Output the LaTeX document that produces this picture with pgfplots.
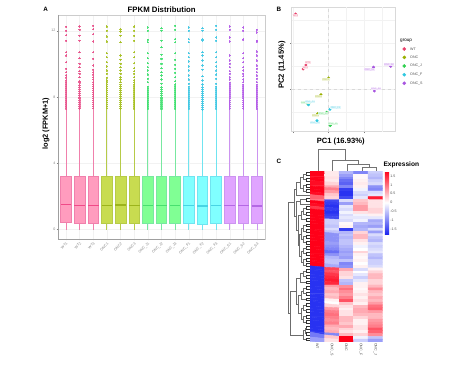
\documentclass[border=0pt]{standalone}
\usepackage{fontspec}
\setmainfont{Liberation Sans}
\usepackage{pgfplots}
\pgfplotsset{compat=1.18}
\usepgfplotslibrary{statistics}
\definecolor{wtF}{HTML}{FF9CBE}\definecolor{wtE}{HTML}{F080AC}\definecolor{wtM}{HTML}{F04A88}\definecolor{wtO}{HTML}{E8508A}
\definecolor{onF}{HTML}{C8DC50}\definecolor{onE}{HTML}{B6CB48}\definecolor{onM}{HTML}{9CB41C}\definecolor{onO}{HTML}{A6C020}
\definecolor{jF}{HTML}{80FF94}\definecolor{jE}{HTML}{78E8A0}\definecolor{jM}{HTML}{48E070}\definecolor{jO}{HTML}{40E070}
\definecolor{fF}{HTML}{80FFFF}\definecolor{fE}{HTML}{70E4F0}\definecolor{fM}{HTML}{48D4E4}\definecolor{fO}{HTML}{40C8E4}
\definecolor{sF}{HTML}{E0A4FF}\definecolor{sE}{HTML}{CC94F0}\definecolor{sM}{HTML}{B468E4}\definecolor{sO}{HTML}{B45CE8}
\definecolor{pW}{HTML}{E8406A}\definecolor{pO}{HTML}{9AB000}\definecolor{pJ}{HTML}{30D050}\definecolor{pF}{HTML}{30C8E0}\definecolor{pS}{HTML}{A855E0}
\newcommand\BX[6]{\addplot[color=#5O,mark=*,mark size=0.65pt,mark options={fill=#5O,draw=#5O,line width=0pt,opacity=0.65},
  boxplot/every box/.style={draw=#5E,fill=#5F,line width=0.7pt},
  boxplot/every whisker/.style={draw=#5E,line width=0.9pt},
  boxplot/every median/.style={draw=#5M,line width=1.3pt},
  boxplot/draw direction=y,
  boxplot prepared={draw position=#1,lower whisker=0,lower quartile=#2,median=#3,upper quartile=#4,upper whisker=7.3,box extend=0.78,whisker extend=0}]
  coordinates {#6};}
\newcommand\Br[5]{\addplot[draw=gray!85!black,line width=0.35pt] coordinates {(#3,#2)(#1,#2)(#1,#4)(#5,#4)};}
\newcommand\Lf[3]{\addplot[draw=black!80,line width=0.35pt] coordinates {(310,#1)(#3,#1)(#3,#2)(310,#2)};}
\begin{document}
\begin{tikzpicture}
\useasboundingbox (0,0) rectangle (474pt,371pt);
% ---------- Panel A
\begin{axis}[at={(58pt,132pt)},anchor=south west,scale only axis,width=207pt,height=224pt,
  xmin=0.413,xmax=15.59,ymin=-0.57,ymax=12.95,
  axis line style={draw=gray!40,line width=0.7pt},
  xtick={1,...,15},xticklabels={WT1,WT2,WT3,ONC1,ONC2,ONC3,ONC\_J1,ONC\_J2,ONC\_J3,ONC\_F1,ONC\_F2,ONC\_F3,ONC\_S1,ONC\_S2,ONC\_S3},
  ytick={0,4,8,12},yticklabels={0,4,8,12},
  x tick label style={rotate=45,anchor=north east,font=\fontsize{3.6}{4}\selectfont,text=gray,inner sep=1pt},
  y tick label style={font=\fontsize{3.6}{4}\selectfont,text=gray,inner sep=1pt},
  tick style={draw=gray,line width=0.3pt},tick align=outside,major tick length=1.5pt,
  xtick pos=bottom,ytick pos=left,
  ymajorgrids,xmajorgrids,grid style={draw=gray!10,line width=0.3pt},axis on top=false]
\BX{1}{0.42}{1.51}{3.19}{wt}{(0,7.3)(0,7.42)(0,7.55)(0,7.66)(0,7.78)(0,7.9)(0,8.02)(0,8.13)(0,8.26)(0,8.38)(0,8.5)(0,8.62)(0,8.74)(0,8.86)(0,9.0)(0,9.18)(0,9.32)(0,9.5)(0,9.7)(0,10.1)(0,10.5)(0,10.7)(0,11.4)(0,11.73)(0,12.0)(0,12.24)}
\BX{2}{0.36}{1.47}{3.19}{wt}{(0,7.3)(0,7.4)(0,7.52)(0,7.65)(0,7.76)(0,7.88)(0,8.0)(0,8.12)(0,8.24)(0,8.36)(0,8.48)(0,8.6)(0,8.72)(0,8.85)(0,8.95)(0,9.2)(0,9.4)(0,9.55)(0,9.8)(0,10.0)(0,10.35)(0,10.7)(0,11.4)(0,11.7)(0,12.05)(0,12.25)}
\BX{3}{0.36}{1.47}{3.19}{wt}{(0,7.32)(0,7.44)(0,7.56)(0,7.68)(0,7.8)(0,7.92)(0,8.04)(0,8.16)(0,8.28)(0,8.4)(0,8.52)(0,8.64)(0,8.76)(0,8.9)(0,9.05)(0,9.2)(0,9.35)(0,9.5)(0,9.65)(0,9.9)(0,10.3)(0,10.7)(0,11.35)(0,11.8)(0,12.1)(0,12.3)}
\BX{4}{0.36}{1.47}{3.19}{on}{(0,7.32)(0,7.44)(0,7.56)(0,7.68)(0,7.8)(0,7.92)(0,8.04)(0,8.16)(0,8.28)(0,8.4)(0,8.52)(0,8.64)(0,8.76)(0,8.88)(0,9.0)(0,9.15)(0,9.4)(0,9.6)(0,9.85)(0,10.1)(0,10.4)(0,10.65)(0,11.35)(0,11.65)(0,12.0)(0,12.25)}
\BX{5}{0.40}{1.49}{3.19}{on}{(0,7.3)(0,7.42)(0,7.54)(0,7.66)(0,7.78)(0,7.9)(0,8.02)(0,8.14)(0,8.26)(0,8.38)(0,8.5)(0,8.62)(0,8.74)(0,8.9)(0,9.05)(0,9.2)(0,9.4)(0,9.6)(0,9.8)(0,10.0)(0,10.25)(0,10.5)(0,11.3)(0,11.7)(0,11.95)(0,12.1)}
\BX{6}{0.40}{1.47}{3.19}{on}{(0,7.3)(0,7.42)(0,7.54)(0,7.66)(0,7.78)(0,7.9)(0,8.02)(0,8.14)(0,8.26)(0,8.38)(0,8.5)(0,8.62)(0,8.74)(0,8.88)(0,9.02)(0,9.2)(0,9.4)(0,9.55)(0,9.75)(0,10.05)(0,10.4)(0,10.7)(0,11.4)(0,11.7)(0,12.0)(0,12.25)}
\BX{7}{0.36}{1.45}{3.2}{j}{(0,7.3)(0,7.42)(0,7.54)(0,7.66)(0,7.78)(0,7.9)(0,8.02)(0,8.14)(0,8.26)(0,8.38)(0,8.5)(0,8.62)(0,8.9)(0,9.1)(0,9.35)(0,9.6)(0,9.8)(0,10.05)(0,10.35)(0,10.65)(0,11.3)(0,11.45)(0,12.0)(0,12.2)}
\BX{8}{0.36}{1.45}{3.2}{j}{(0,7.28)(0,7.4)(0,7.52)(0,7.64)(0,7.76)(0,7.88)(0,8.0)(0,8.12)(0,8.24)(0,8.36)(0,8.48)(0,8.6)(0,8.8)(0,9.05)(0,9.3)(0,9.5)(0,9.75)(0,10.0)(0,10.3)(0,10.55)(0,11.0)(0,11.4)(0,12.0)(0,12.15)}
\BX{9}{0.40}{1.47}{3.2}{j}{(0,7.3)(0,7.42)(0,7.54)(0,7.66)(0,7.78)(0,7.9)(0,8.02)(0,8.14)(0,8.26)(0,8.38)(0,8.5)(0,8.62)(0,8.75)(0,8.95)(0,9.2)(0,9.45)(0,9.7)(0,9.95)(0,10.25)(0,10.65)(0,11.3)(0,11.5)(0,12.05)(0,12.3)}
\BX{10}{0.36}{1.45}{3.2}{f}{(0,7.3)(0,7.42)(0,7.54)(0,7.66)(0,7.78)(0,7.9)(0,8.02)(0,8.14)(0,8.26)(0,8.38)(0,8.5)(0,8.62)(0,8.8)(0,9.05)(0,9.3)(0,9.6)(0,9.85)(0,10.15)(0,10.4)(0,10.65)(0,11.3)(0,11.5)(0,12.0)(0,12.2)}
\BX{11}{0.30}{1.43}{3.2}{f}{(0,7.25)(0,7.37)(0,7.49)(0,7.61)(0,7.73)(0,7.85)(0,7.97)(0,8.09)(0,8.21)(0,8.33)(0,8.45)(0,8.58)(0,8.75)(0,9.0)(0,9.25)(0,9.65)(0,9.9)(0,10.2)(0,10.5)(0,10.7)(0,11.4)(0,11.5)(0,12.0)(0,12.15)}
\BX{12}{0.36}{1.47}{3.2}{f}{(0,7.3)(0,7.42)(0,7.54)(0,7.66)(0,7.78)(0,7.9)(0,8.02)(0,8.14)(0,8.26)(0,8.38)(0,8.5)(0,8.62)(0,8.8)(0,9.1)(0,9.35)(0,9.6)(0,9.85)(0,10.1)(0,10.4)(0,10.7)(0,11.4)(0,11.6)(0,12.05)(0,12.3)}
\BX{13}{0.36}{1.45}{3.19}{s}{(0,7.3)(0,7.42)(0,7.54)(0,7.66)(0,7.78)(0,7.9)(0,8.02)(0,8.14)(0,8.26)(0,8.38)(0,8.5)(0,8.62)(0,8.74)(0,8.86)(0,9.05)(0,9.2)(0,9.4)(0,9.55)(0,9.8)(0,10.0)(0,10.2)(0,10.5)(0,11.35)(0,11.6)(0,12.05)(0,12.25)}
\BX{14}{0.36}{1.45}{3.19}{s}{(0,7.3)(0,7.42)(0,7.54)(0,7.66)(0,7.78)(0,7.9)(0,8.02)(0,8.14)(0,8.26)(0,8.38)(0,8.5)(0,8.62)(0,8.74)(0,8.9)(0,9.05)(0,9.25)(0,9.4)(0,9.6)(0,9.8)(0,10.1)(0,10.35)(0,10.65)(0,11.45)(0,11.5)(0,12.0)(0,12.2)}
\BX{15}{0.36}{1.43}{3.19}{s}{(0,7.3)(0,7.42)(0,7.54)(0,7.66)(0,7.78)(0,7.9)(0,8.02)(0,8.14)(0,8.26)(0,8.38)(0,8.5)(0,8.62)(0,8.74)(0,8.9)(0,9.1)(0,9.3)(0,9.5)(0,9.7)(0,9.9)(0,10.2)(0,10.5)(0,10.75)(0,11.35)(0,11.4)(0,11.9)(0,12.05)}
\end{axis}
% ---------- Panel B
\begin{axis}[at={(291.7pt,239.3pt)},anchor=south west,scale only axis,width=103.3pt,height=124.4pt,
  xmin=-20.6,xmax=37,ymin=-18.7,ymax=35.75,
  axis line style={draw=gray!30,line width=0.6pt},
  xtick={-20,0,20},ytick={0,20},xticklabels={},yticklabels={},
  extra x ticks={10,30},extra y ticks={-10,10,30},extra tick style={major tick length=0pt,xticklabels={},yticklabels={}},
  tick style={draw=gray,line width=0.3pt},tick align=outside,major tick length=1.5pt,
  xtick pos=bottom,ytick pos=left,
  grid=major,grid style={draw=gray!10,line width=0.3pt}]
\addplot[draw=gray!30,line width=0.5pt,dashed] coordinates {(0,-18.7)(0,35.75)};
\addplot[draw=gray!30,line width=0.5pt,dashed] coordinates {(-20.6,0)(37,0)};
\addplot[only marks,mark=*,mark size=1.3pt,color=pW] coordinates {(-18.4,32.8)(-12.7,10.5)(-14.2,8.75)};
\addplot[only marks,mark=*,mark size=1.3pt,color=pO] coordinates {(0,4.8)(-4.3,-2.5)(-6.1,-10.8)};
\addplot[only marks,mark=*,mark size=1.3pt,color=pJ] coordinates {(-1.1,-10.2)(0.9,-16)(-11.5,-6.6)};
\addplot[only marks,mark=*,mark size=1.3pt,color=pF] coordinates {(-11.2,-6.9)(-6.5,-13.9)(0.7,-8.9)};
\addplot[only marks,mark=*,mark size=1.3pt,color=pS] coordinates {(25,9.5)(34.6,9.9)(25.5,-0.9)};
\end{axis}
% ---------- Panel C heat map
\begin{axis}[at={(310pt,29pt)},anchor=south west,scale only axis,width=72.7pt,height=171pt,
  xmin=0.5,xmax=5.5,ymin=-0.5,ymax=59.5,y dir=reverse,
  axis line style={draw=none},
  xtick={1,...,5},xticklabels={WT,ONC\_S,ONC,ONC\_F,ONC\_J},ytick=\empty,
  x tick label style={rotate=-90,anchor=west,font=\fontsize{3.6}{4}\selectfont,text=black!70,inner sep=1pt},
  major tick length=0pt,xtick pos=bottom,
  colormap={bwr}{rgb255(0)=(30,40,240); rgb255(500)=(255,255,255); rgb255(1000)=(255,0,25)},
  point meta min=-1.78,point meta max=1.78,
  colorbar,
  colorbar style={at={(1.03,1)},anchor=north west,width=4.3pt,height=63pt,
    ytick={-1.5,-1,-0.5,0,0.5,1,1.5},yticklabels={-1.5,-1,-0.5,0,0.5,1,1.5},
    y tick label style={font=\fontsize{3.6}{4}\selectfont,text=black!70,inner sep=1pt},
    major tick length=0pt,axis line style={draw=none}}]
\addplot[matrix plot*,mesh/cols=5,point meta=explicit]
  table[row sep=\\,header=false,x expr={mod(\coordindex,5)+1},y expr={floor(\coordindex/5)},meta index=0] {
1.8\\.15\\-.6\\-1\\-.4\\
1.8\\.15\\-.8\\.05\\-.5\\
1.8\\.2\\-1\\.05\\-.6\\
1.8\\.15\\-1.2\\.1\\-.4\\
1.7\\.3\\-1.3\\.15\\-.3\\
1.7\\.6\\-1\\.1\\-.9\\
1.8\\.9\\-1.6\\-.1\\-1\\
1.8\\.7\\-1.7\\-.3\\-.3\\
1.7\\.4\\-1.7\\-.4\\-.2\\
1.1\\.3\\-1.5\\-.2\\1.6\\
1\\-1.5\\-.3\\.4\\.2\\
1.8\\-1.6\\-.8\\.5\\.2\\
1.7\\-1.7\\-.2\\.7\\.2\\
1.4\\-1.6\\-.3\\.7\\.3\\
1.8\\-1.7\\-.1\\.2\\.3\\
1.8\\-1.6\\-.3\\-.1\\.1\\
1.8\\-1.5\\-.2\\-.2\\-.2\\
1.8\\-.4\\-.3\\-.1\\-.7\\
1.8\\-.4\\.05\\-.6\\-.6\\
1.8\\-.5\\.1\\-.7\\-.8\\
1.8\\-.3\\-1.6\\-.6\\-.3\\
1.8\\-.5\\-.6\\.3\\-.8\\
1.8\\-.9\\-.5\\.5\\-.3\\
1.8\\-.9\\-.6\\.5\\-.5\\
1.8\\-.9\\-.5\\.2\\-.6\\
1.8\\-.8\\-.5\\.1\\-.3\\
1.8\\-.9\\-.6\\-.1\\-.4\\
1.8\\-1\\-.7\\0\\-.3\\
1.8\\-1.2\\-.8\\.3\\-.2\\
1.8\\-.9\\-.7\\.1\\-.5\\
1.8\\-.6\\-.8\\.05\\-.6\\
1.8\\-.5\\-.5\\.1\\-.4\\
1.8\\-.5\\-1\\0\\-.4\\
1.8\\-.7\\-.9\\.1\\-.3\\
-1.7\\1.3\\.6\\-.3\\.1\\
-1.7\\1.2\\.3\\0\\.3\\
-1.7\\1.4\\.3\\-.2\\.5\\
-1.7\\1.5\\.2\\-.4\\.5\\
-1.7\\1.6\\-.5\\-.2\\.3\\
-1.7\\1.5\\-.6\\.1\\.3\\
-1.7\\.7\\.8\\.1\\.5\\
-1.7\\.5\\1\\.05\\.8\\
-1.7\\.6\\.8\\.1\\.5\\
-1.7\\.4\\.7\\.2\\.4\\
-1.7\\.5\\.9\\.1\\.6\\
-1.7\\.1\\1.2\\.2\\.5\\
-1.7\\0\\.4\\.1\\.7\\
-1.7\\.3\\.2\\.5\\1\\
-1.7\\.7\\.1\\.6\\1.1\\
-1.7\\.9\\.2\\.6\\.7\\
-1.7\\1\\.2\\.5\\.5\\
-1.7\\.9\\.5\\.3\\.5\\
-1.7\\.8\\.5\\.1\\.7\\
-1.7\\.9\\.4\\.1\\.8\\
-1.7\\.6\\.6\\.2\\.9\\
-1.7\\.5\\.3\\.2\\1.2\\
-1.7\\.6\\.2\\.1\\1.1\\
-1.6\\-1\\.5\\.3\\.8\\
-1.1\\.4\\1.8\\-.1\\-.5\\
-.8\\.2\\1.8\\-.4\\-.8\\
};
\end{axis}
% ---------- row dendrogram (x in picture pixels, y in heat map rows)
\begin{axis}[at={(286pt,29pt)},anchor=south west,scale only axis,width=24pt,height=171pt,
  xmin=286,xmax=310,ymin=-0.5,ymax=59.5,y dir=reverse,axis lines=none,clip=false]
\Lf{0}{1}{306.5}\Lf{2}{3}{306}\Lf{4}{5}{306}\Lf{6}{7}{306.5}\Lf{9}{10}{306}
\Lf{12}{13}{306}\Lf{14}{15}{306.5}\Lf{16}{17}{306}\Lf{18}{19}{306}\Lf{20}{21}{306.5}\Lf{22}{23}{306}\Lf{24}{25}{306}
\Lf{26}{27}{306.5}\Lf{28}{29}{306}\Lf{30}{31}{306}\Lf{32}{33}{306.5}
\Lf{34}{35}{306}\Lf{36}{37}{306.5}\Lf{38}{39}{306}\Lf{40}{41}{306}\Lf{42}{43}{306.5}\Lf{44}{45}{306}\Lf{46}{47}{306}
\Lf{48}{49}{306.5}\Lf{50}{51}{306}\Lf{52}{53}{306}\Lf{54}{55}{306.5}\Lf{56}{57}{306}\Lf{58}{59}{306}
\Br{303}{0.5}{306.5}{2.5}{306}\Br{303.5}{4.5}{306}{6.5}{306.5}\Br{300}{1.5}{303}{5.5}{303.5}
\Br{296}{3.5}{300}{8}{310}\Br{300}{9.5}{306}{11}{310}
\Br{303}{12.5}{306}{14.5}{306.5}\Br{301}{13.5}{303}{16.5}{306}
\Br{303}{18.5}{306}{20.5}{306.5}\Br{303.5}{22.5}{306}{24.5}{306}\Br{301.5}{19.5}{303}{23.5}{303.5}
\Br{303}{26.5}{306.5}{28.5}{306}\Br{303.5}{30.5}{306}{32.5}{306.5}\Br{301.5}{27.5}{303}{31.5}{303.5}
\Br{299.5}{21.5}{301.5}{29.5}{301.5}\Br{298}{15}{301}{25.5}{299.5}\Br{296.5}{10.25}{300}{20.25}{298}
\Br{294.6}{5.75}{296}{15.25}{296.5}
\Br{303}{34.5}{306}{36.5}{306.5}\Br{300}{35.5}{303}{38.5}{306}
\Br{303.5}{40.5}{306}{42.5}{306.5}\Br{301}{41.5}{303.5}{44.5}{306}
\Br{303}{46.5}{306}{48.5}{306.5}\Br{303.5}{50.5}{306}{52.5}{306}\Br{301}{47.5}{303}{51.5}{303.5}
\Br{298.5}{43}{301}{49.5}{301}\Br{296}{37}{300}{46.25}{298.5}
\Br{305}{54.5}{306.5}{56.5}{306}\Br{303}{55.5}{305}{58.5}{306}
\Br{290}{41.6}{296}{57}{303}
\Br{288.3}{10.5}{294.6}{49.3}{290}
\end{axis}
% ---------- overlay in picture pixels: column dendrogram, legend, texts
\begin{axis}[at={(0pt,0pt)},anchor=south west,scale only axis,width=474pt,height=371pt,
  xmin=0,xmax=474,ymin=0,ymax=371,y dir=reverse,axis lines=none,clip=false]
\addplot[draw=gray!90!black,line width=0.4pt] coordinates {(317.7,171)(317.7,149.3)(345.3,149.3)(345.3,160)};
\addplot[draw=gray!90!black,line width=0.4pt] coordinates {(332.3,171)(332.3,160)(358.3,160)(358.3,164)};
\addplot[draw=gray!90!black,line width=0.4pt] coordinates {(347.3,171)(347.3,164)(368.7,164)(368.7,167.7)};
\addplot[draw=gray!90!black,line width=0.4pt] coordinates {(361.7,171)(361.7,167.7)(376,167.7)(376,171)};
% frame of panel A, heavier on left and bottom
\addplot[draw=gray!75,line width=0.9pt] coordinates {(58,15)(58,239)(265,239)};
% legend of panel B
\addplot[only marks,mark=*,mark size=1.6pt,color=pW] coordinates {(404.3,49)};
\addplot[only marks,mark=*,mark size=1.6pt,color=pO] coordinates {(404.3,57.4)};
\addplot[only marks,mark=*,mark size=1.6pt,color=pJ] coordinates {(404.3,66)};
\addplot[only marks,mark=*,mark size=1.6pt,color=pF] coordinates {(404.3,74.7)};
\addplot[only marks,mark=*,mark size=1.6pt,color=pS] coordinates {(404.3,83.3)};
\begin{scope}[every node/.style={inner sep=0pt}]
\node[font=\fontsize{4.6}{5}\selectfont,anchor=west] at (axis cs:400,41) {group};
\foreach \yy/\tt in {49/WT,57.4/ONC,66/ONC\_J,74.7/ONC\_F,83.3/ONC\_S}
  {\edef\temp{\noexpand\node[font=\noexpand\fontsize{3.6}{4}\noexpand\selectfont,text=black!70,anchor=west] at (axis cs:410,\yy) {\expandafter\noexpand\tt};}\temp}
\node[font=\bfseries\fontsize{6.3}{7}\selectfont] at (axis cs:45.7,9.5) {A};
\node[font=\bfseries\fontsize{6.3}{7}\selectfont] at (axis cs:279,9) {B};
\node[font=\bfseries\fontsize{6.3}{7}\selectfont] at (axis cs:279,161) {C};
\node[font=\bfseries\fontsize{7.8}{8}\selectfont] at (axis cs:161.7,9.5) {FPKM Distribution};
\node[font=\bfseries\fontsize{7.4}{8}\selectfont,rotate=90] at (axis cs:46,123.5) {log2 (FPKM+1)};
\node[font=\bfseries\fontsize{7.6}{8}\selectfont] at (axis cs:340.7,142) {PC1 (16.93\%)};
\node[font=\bfseries\fontsize{7.6}{8}\selectfont,rotate=90] at (axis cs:282,65) {PC2 (11.45\%)};
\node[font=\bfseries\fontsize{6.6}{7}\selectfont,anchor=west] at (axis cs:383.3,165) {Expression};
% sample labels of panel B
\foreach \xx/\yy/\cc/\tt in {308/62.5/pW/WT1,305.5/67.5/pW/WT2,295.5/15.5/pW/WT3,
  326/79.7/pO/ONC1,318.5/96.3/pO/ONC2,315.5/115.7/pO/ONC3,
  333/124/pJ/ONC\_J1,323/113.5/pJ/ONC\_J2,305.5/103/pJ/ONC\_J3,
  335.5/107.7/pF/ONC\_F1,315/123/pF/ONC\_F2,310/102/pF/ONC\_F3,
  369.5/69.7/pS/ONC\_S1,389/64.5/pS/ONC\_S2,376/89/pS/ONC\_S3}
  {\edef\temp{\noexpand\node[font=\noexpand\fontsize{2.4}{3}\noexpand\selectfont,text=\cc!70,fill=\cc!14,inner sep=0.4pt] at (axis cs:\xx,\yy) {\expandafter\noexpand\tt};}\temp}
\end{scope}
\end{axis}
\end{tikzpicture}
\end{document}
